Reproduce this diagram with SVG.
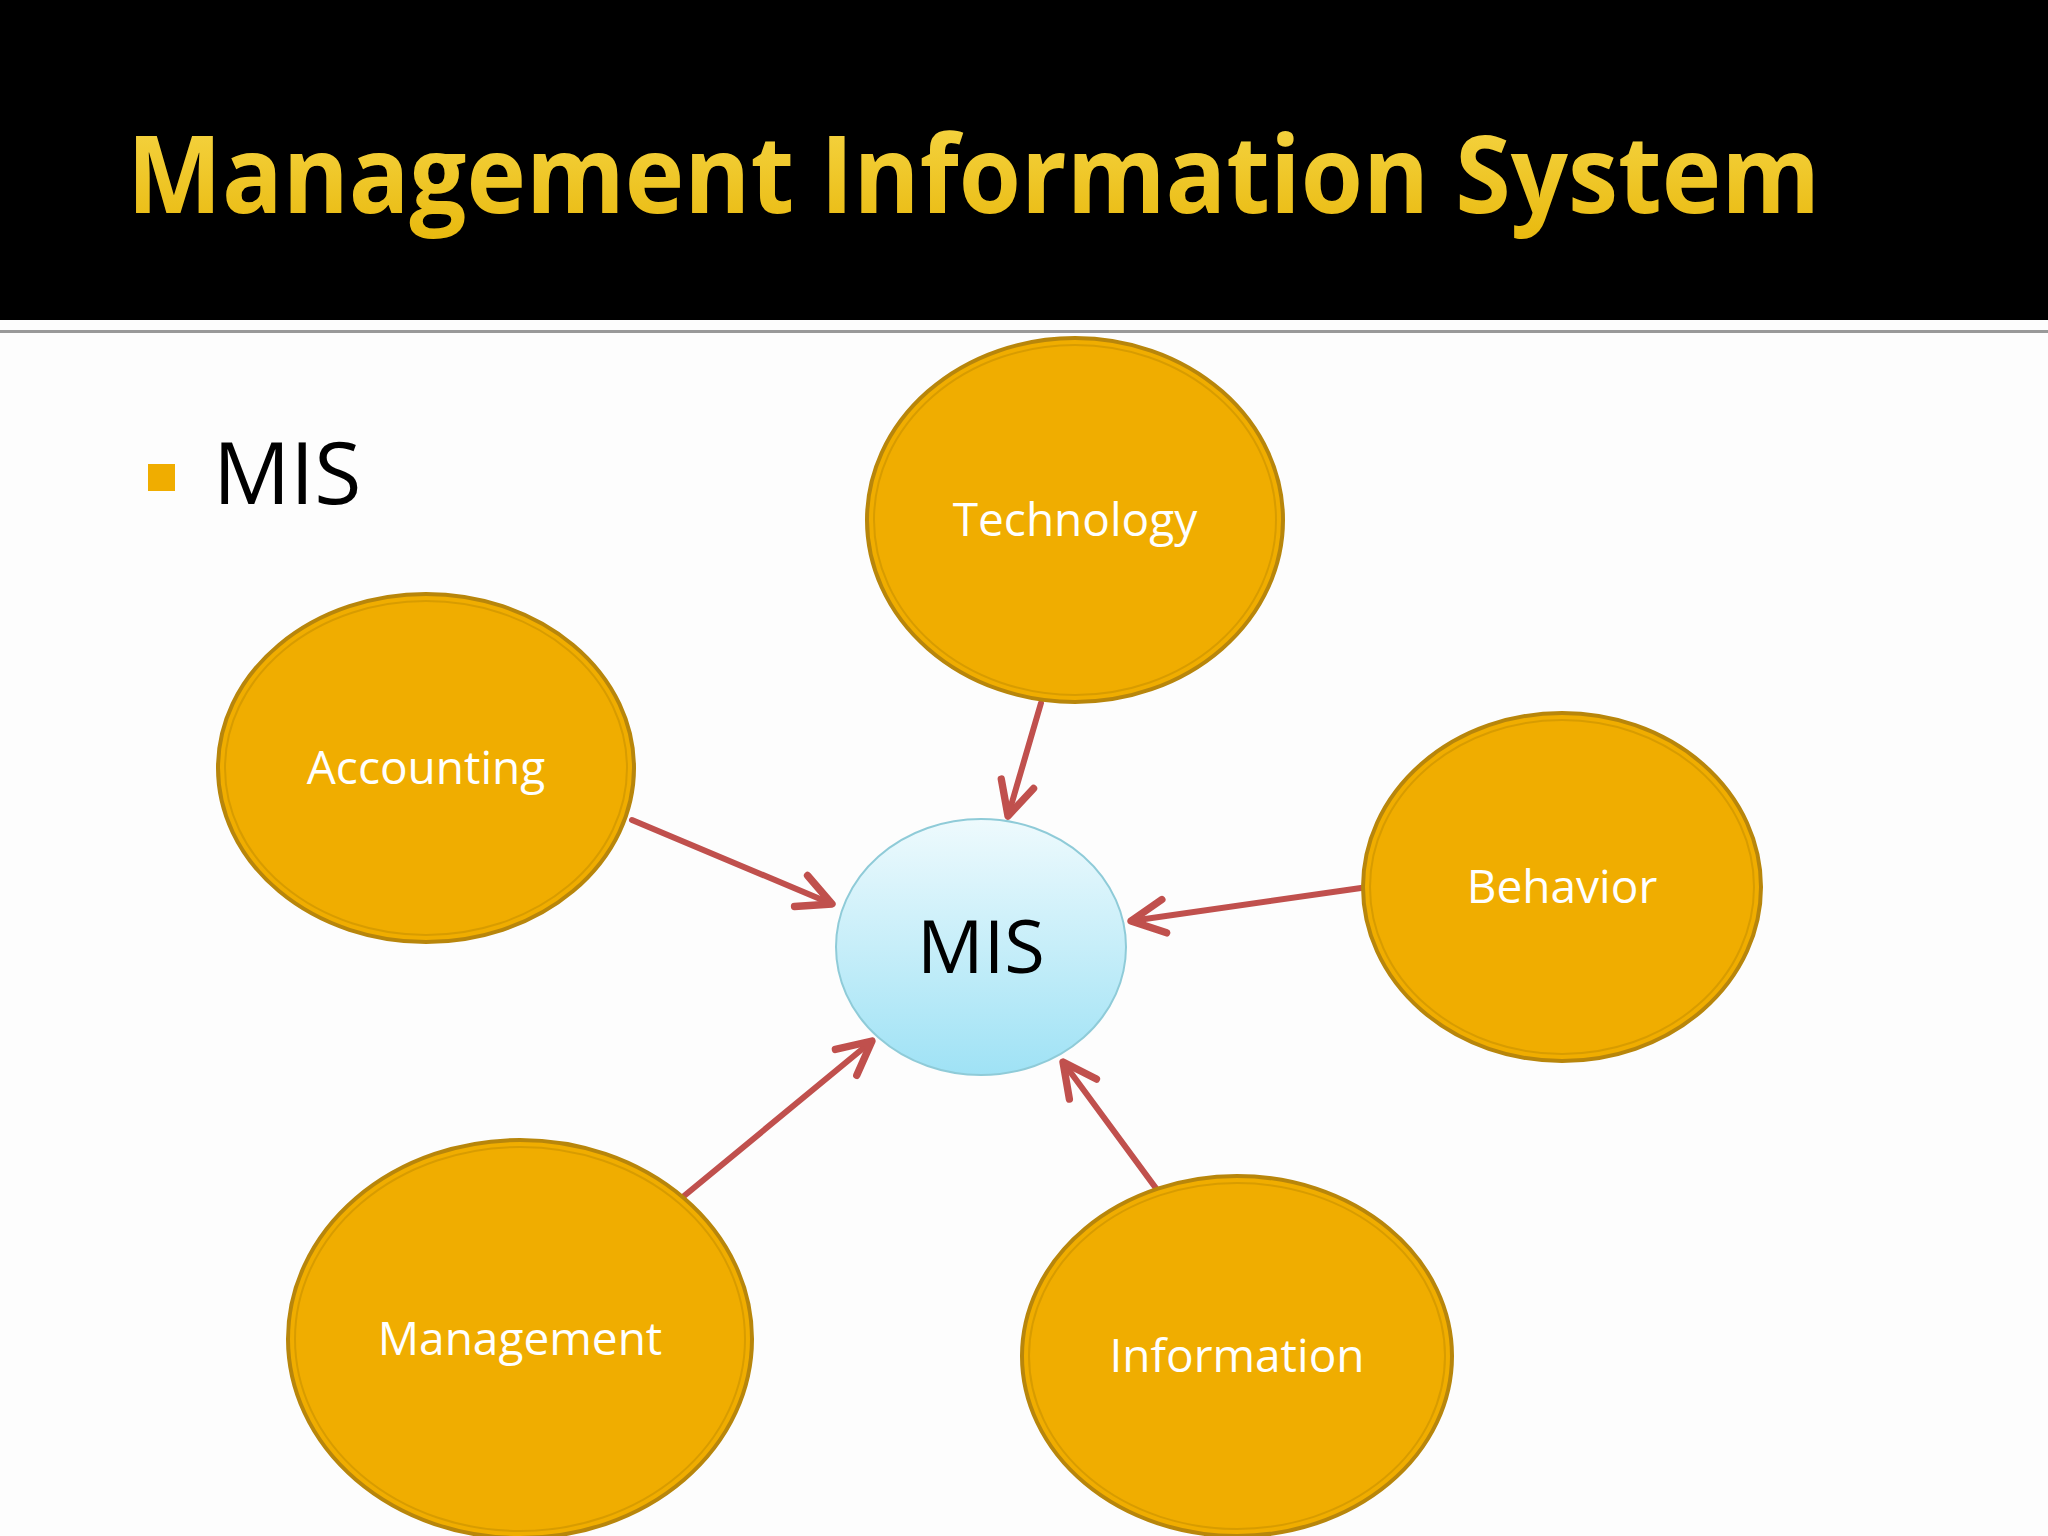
<svg xmlns="http://www.w3.org/2000/svg" width="2048" height="1536" viewBox="0 0 2048 1536">
<defs>
<style>
.node{fill:#f0ad00;stroke:#b8860b;stroke-width:4}
.inner{fill:none;stroke:#d89c00;stroke-width:2}
.lbl{font-family:"Open Sans","DejaVu Sans",sans-serif;font-size:46px;fill:#fff;text-anchor:middle}
.con{stroke:#c0504d;stroke-width:6;fill:none;stroke-linecap:round}
</style>
<linearGradient id="misg" x1="0" y1="0" x2="0" y2="1"><stop offset="0" stop-color="#eefafd"/><stop offset="1" stop-color="#9fe2f5"/></linearGradient>
<linearGradient id="tg" x1="0" y1="0" x2="0" y2="1"><stop offset="0" stop-color="#f7d84a"/><stop offset="1" stop-color="#e8b80c"/></linearGradient>
<marker id="ah" viewBox="0 0 20 20" refX="18" refY="10" markerWidth="7" markerHeight="7" orient="auto" markerUnits="strokeWidth"><path d="M2 2 L18 10 L2 18" fill="none" stroke="#c0504d" stroke-width="3.5" stroke-linecap="round" stroke-linejoin="round"/></marker>
</defs>
<rect width="2048" height="1536" fill="#fdfdfd"/>
<rect width="2048" height="320" fill="#000"/>
<rect y="330" width="2048" height="3" fill="#999"/>
<text x="127" y="213" font-family="Open Sans, Lato, sans-serif" font-weight="bold" font-size="108" fill="url(#tg)" textLength="1693" lengthAdjust="spacingAndGlyphs">Management Information System</text>
<rect x="148" y="464" width="27" height="27" fill="#f0ad00"/>
<text x="213" y="504" font-family="Open Sans, Lato, sans-serif" font-size="86" fill="#000">MIS</text>
<g id="connectors">
<line class="con" x1="1041" y1="703" x2="1008" y2="816" marker-end="url(#ah)"/>
<line class="con" x1="632" y1="820" x2="832" y2="904" marker-end="url(#ah)"/>
<line class="con" x1="1361" y1="888" x2="1131" y2="921" marker-end="url(#ah)"/>
<line class="con" x1="684" y1="1196" x2="872" y2="1041" marker-end="url(#ah)"/>
<line class="con" x1="1158" y1="1191" x2="1063" y2="1062" marker-end="url(#ah)"/>
</g>
<g id="technology"><ellipse class="node" cx="1075" cy="520" rx="208" ry="182"/><ellipse class="inner" cx="1075" cy="520" rx="201" ry="175"/><text class="lbl" x="1075" y="536">Technology</text></g>
<g id="accounting"><ellipse class="node" cx="426" cy="768" rx="208" ry="174"/><ellipse class="inner" cx="426" cy="768" rx="201" ry="167"/><text class="lbl" x="426" y="784">Accounting</text></g>
<g id="behavior"><ellipse class="node" cx="1562" cy="887" rx="199" ry="174"/><ellipse class="inner" cx="1562" cy="887" rx="192" ry="167"/><text class="lbl" x="1562" y="903">Behavior</text></g>
<g id="management"><ellipse class="node" cx="520" cy="1339" rx="232" ry="199"/><ellipse class="inner" cx="520" cy="1339" rx="225" ry="192"/><text class="lbl" x="520" y="1355">Management</text></g>
<g id="information"><ellipse class="node" cx="1237" cy="1356" rx="215" ry="180"/><ellipse class="inner" cx="1237" cy="1356" rx="208" ry="173"/><text class="lbl" x="1237" y="1372">Information</text></g>
<g id="mis"><ellipse cx="981" cy="947" rx="145" ry="128" fill="url(#misg)" stroke="#8fcbd8" stroke-width="2"/><text x="981" y="973" font-family="Open Sans, sans-serif" font-size="74" text-anchor="middle" fill="#000">MIS</text></g>
</svg>
